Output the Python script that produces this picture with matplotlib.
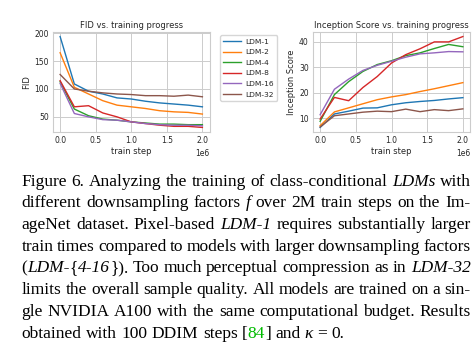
import matplotlib
matplotlib.use('Agg')
import matplotlib.pyplot as plt

# Data
steps = [0.0, 0.2e6, 0.4e6, 0.6e6, 0.8e6, 1.0e6, 1.2e6, 1.4e6, 1.6e6, 1.8e6, 2.0e6]
labels = ['LDM-1', 'LDM-2', 'LDM-4', 'LDM-8', 'LDM-16', 'LDM-32']
colors = ['#1f77b4', '#ff7f0e', '#2ca02c', '#d62728', '#9467bd', '#8c564b']

fid_ldm1 = [194, 109, 96, 91, 84, 82, 78, 75, 73, 71, 68]
fid_ldm2 = [165, 103, 91, 79, 71, 68, 65, 61, 59, 58, 55]
fid_ldm4 = [113, 64, 52, 46, 44, 41, 39, 37, 37, 36, 36]
fid_ldm8 = [115, 68, 70, 57, 50, 41, 38, 35, 33, 33, 31]
fid_ldm16 = [110, 56, 50, 45, 44, 41, 38, 36, 35, 35, 34]
fid_ldm32 = [126, 100, 96, 93, 91, 90, 88, 88, 87, 89, 86]

is_ldm1 = [6.3, 11.6, 12.7, 13.9, 14.0, 15.2, 16.0, 16.5, 16.9, 17.5, 18.0]
is_ldm2 = [7.0, 12.4, 14.0, 15.6, 17.2, 18.3, 19.2, 20.4, 21.5, 22.7, 23.9]
is_ldm4 = [8.7, 19.2, 24.3, 28.3, 31.0, 32.5, 34.5, 35.6, 37.3, 38.9, 38.0]
is_ldm8 = [9.6, 18.1, 16.8, 22.0, 26.3, 31.6, 34.9, 37.2, 39.9, 39.9, 42.0]
is_ldm16 = [11.3, 21.3, 25.3, 28.7, 30.7, 32.3, 33.9, 35.2, 35.6, 36.1, 36.0]
is_ldm32 = [6.5, 10.9, 11.6, 12.3, 12.7, 12.5, 13.5, 12.5, 13.3, 12.9, 13.6]

fid_all = [fid_ldm1, fid_ldm2, fid_ldm4, fid_ldm8, fid_ldm16, fid_ldm32]
is_all = [is_ldm1, is_ldm2, is_ldm4, is_ldm8, is_ldm16, is_ldm32]

# Caption: *...* italic, #...# green (citation)
caption = [
    'Figure 6.  Analyzing the training of class-conditional *LDMs* with',
    'different downsampling factors *f* over 2M train steps on the Im-',
    'ageNet dataset.  Pixel-based *LDM-1* requires substantially larger',
    'train times compared to models with larger downsampling factors',
    '(*LDM-*{*4-16*}).  Too much perceptual compression as in *LDM-32*',
    'limits the overall sample quality.  All models are trained on a sin-',
    'gle NVIDIA A100 with the same computational budget.  Results',
    'obtained with 100 DDIM steps [#84#] and *\u03ba* = 0.',
]

W, H = 474, 343
txt = '#262626'
light = '#cccccc'
plt.rcParams.update({
    'font.family': 'DejaVu Sans',
    'text.color': txt,
    'axes.labelcolor': txt,
    'xtick.color': txt,
    'ytick.color': txt,
    'axes.edgecolor': light,
    'axes.linewidth': 0.8,
    'grid.color': light,
    'grid.linewidth': 0.7,
    'xtick.major.size': 0,
    'ytick.major.size': 0,
    'xtick.major.pad': 3,
    'ytick.major.pad': 3,
    'xtick.labelsize': 5.5,
    'ytick.labelsize': 5.5,
    'axes.labelsize': 6.0,
    'axes.titlesize': 6.0,
})

fig = plt.figure(figsize=(W / 100, H / 100), dpi=100)

def px_axes(x0, y0, x1, y1):
    return fig.add_axes([x0 / W, 1 - y1 / H, (x1 - x0) / W, (y1 - y0) / H])

ax1 = px_axes(53, 32, 209.5, 132)
ax2 = px_axes(313, 32, 470, 132)

lines = []
for vals, lab, c in zip(fid_all, labels, colors):
    ln, = ax1.plot(steps, vals, color=c, lw=1.0, label=lab)
    lines.append(ln)
for vals, lab, c in zip(is_all, labels, colors):
    ax2.plot(steps, vals, color=c, lw=1.0, label=lab)

ax1.set_title('FID vs. training progress', pad=3)
ax1.set_ylabel('FID', labelpad=2)
ax1.set_yticks([50, 100, 150, 200])
ax2.set_title('Inception Score vs. training progress', pad=3)
ax2.set_ylabel('Inception Score', labelpad=2)
ax2.set_yticks([10, 20, 30, 40])
for ax in (ax1, ax2):
    ax.set_xlabel('train step', labelpad=1)
    ax.set_xticks([0, 0.5e6, 1.0e6, 1.5e6, 2.0e6])
    ax.grid(True)
    ax.set_axisbelow(True)
    ax.xaxis.get_offset_text().set_fontsize(5.5)

fig.legend(handles=lines, loc='upper left', bbox_to_anchor=(220 / W, 1 - 35 / H),
           fontsize=5.4, frameon=True, edgecolor=light, borderaxespad=0,
           handlelength=2.3, handletextpad=0.6, labelspacing=0.58, borderpad=0.45)

# Justified caption, placed word by word
serif = 'Liberation Serif'
fsize = 12.5
x_left, x_right = 21.7, 470.7
base0, step = 185.7, 21.7

def parse_word(word):
    segs, cur, ital, green = [], '', False, False
    for ch in word:
        if ch in '*#':
            if cur:
                segs.append((cur, ital, green))
            cur = ''
            if ch == '*':
                ital = not ital
            else:
                green = not green
        else:
            cur += ch
    if cur:
        segs.append((cur, ital, green))
    return segs

fig.canvas.draw()
renderer = fig.canvas.get_renderer()

def width_px(t):
    return t.get_window_extent(renderer).width

probe2 = fig.text(0, 0, 'a a', family=serif, fontsize=fsize, alpha=0)
probe1 = fig.text(0, 0, 'aa', family=serif, fontsize=fsize, alpha=0)
space_w = width_px(probe2) - width_px(probe1)
probe1.remove()
probe2.remove()

for i, line in enumerate(caption):
    y = 1 - (base0 + i * step) / H
    words = []
    for w in line.split():
        arts = []
        for s, it, gr in parse_word(w):
            t = fig.text(0, y, s, family=serif, fontsize=fsize, va='baseline',
                         style='italic' if it else 'normal',
                         color='#00bb00' if gr else 'black')
            arts.append(t)
        words.append(arts)
    widths = [sum(width_px(a) for a in arts) for arts in words]
    if i < len(caption) - 1:
        gap = (x_right - x_left - sum(widths)) / (len(words) - 1)
    else:
        gap = space_w
    x = x_left
    for arts, w in zip(words, widths):
        for a in arts:
            a.set_x(x / W)
            x += width_px(a)
        x += gap

fig.savefig('out.png', dpi=100)
